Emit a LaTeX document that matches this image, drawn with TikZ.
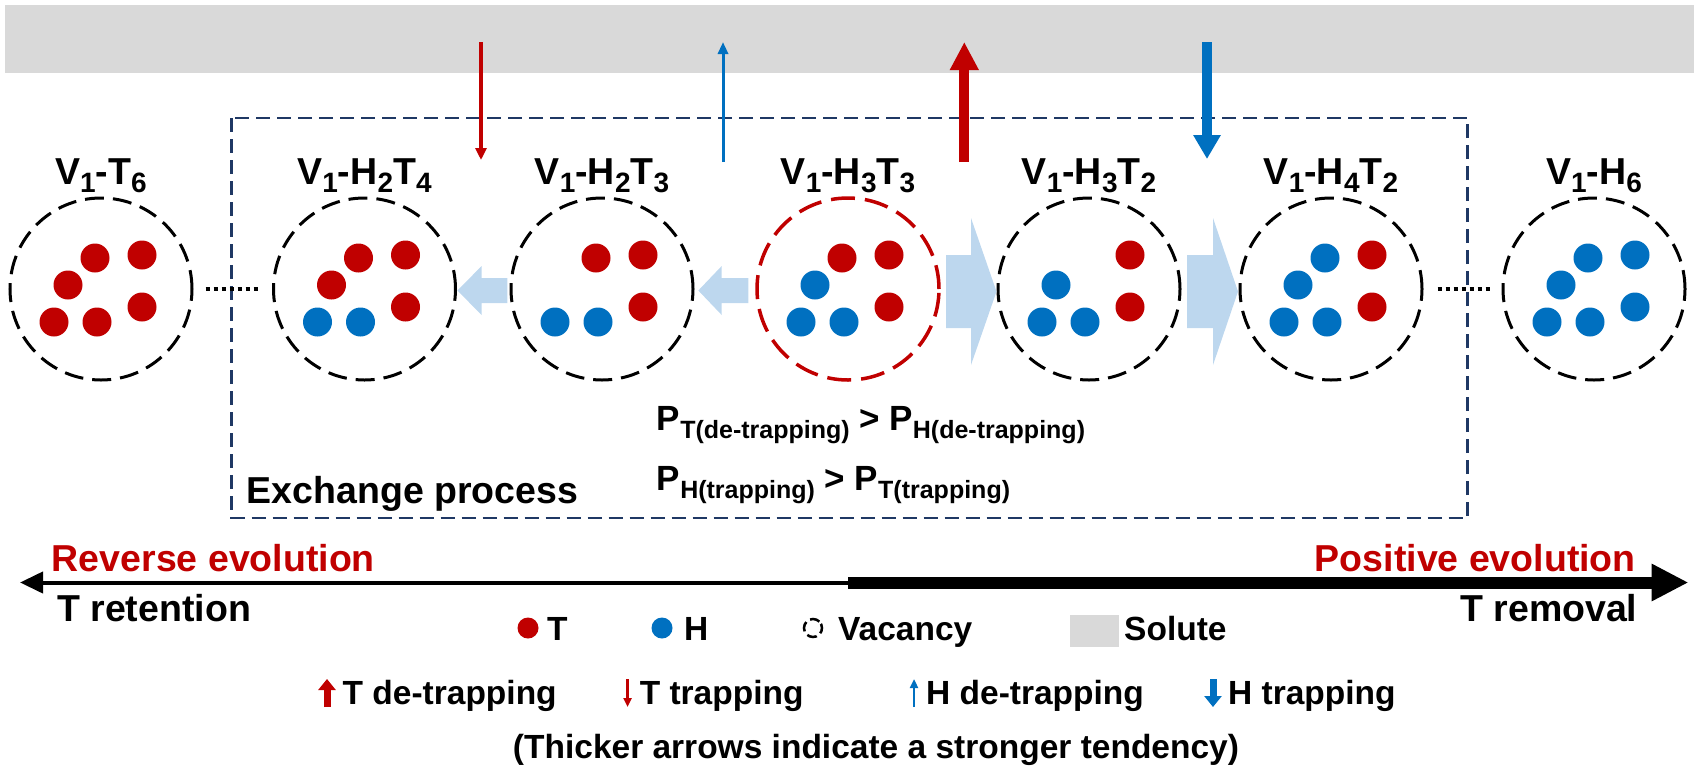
\documentclass[tikz,border=0pt]{standalone}
\usepackage{fontspec}
\setmainfont{Liberation Sans}
\usetikzlibrary{arrows.meta,calc}
\definecolor{tred}{HTML}{C00000}
\definecolor{hblue}{HTML}{0070C0}
\definecolor{lblue}{HTML}{BDD7EE}
\definecolor{solgray}{HTML}{D9D9D9}
\definecolor{navy}{HTML}{1F3864}
\newcommand{\lsub}[1]{\raisebox{-8pt}{\fontsize{28}{28}\selectfont #1}}
\newcommand{\psub}[1]{\raisebox{-8pt}{\fontsize{25}{25}\selectfont #1}}
\begin{document}
\begin{tikzpicture}[x=1pt,y=-1pt,
  vac/.style={circle,draw=black,line width=3pt,dash pattern=on 19pt off 9pt,minimum size=182pt,inner sep=0pt},
  vacred/.style={vac,draw=tred,line width=3.5pt,dash pattern=on 24pt off 10pt},
  tdot/.style={circle,fill=tred,minimum size=29pt,inner sep=0pt},
  hdot/.style={circle,fill=hblue,minimum size=29pt,inner sep=0pt},
  lbl/.style={font=\bfseries\fontsize{37.5}{40}\selectfont,anchor=base,inner sep=0pt},
  txt/.style={font=\bfseries\fontsize{37.5}{40}\selectfont,inner sep=0pt},
  ptxt/.style={font=\bfseries\fontsize{35}{38}\selectfont,inner sep=0pt,anchor=base west},
  leg/.style={font=\bfseries\fontsize{33.5}{36}\selectfont,inner sep=0pt,anchor=base west},
  blockarrow/.style={fill=lblue},
  dotline/.style={line width=4pt,dash pattern=on 4pt off 4pt},
  thinred/.style={tred,line width=3.5pt,-{Triangle[length=12pt,width=11pt]}},
  thinblue/.style={hblue,line width=3pt,-{Triangle[length=12pt,width=10pt]}},
  thickred/.style={tred,line width=10pt,-{Triangle[length=28pt,width=27pt]}},
  thickblue/.style={hblue,line width=9.5pt,-{Triangle[length=24pt,width=26pt]}},
  legthin/.style={line width=2.5pt,-{Triangle[length=9pt,width=8pt]}},
  legthick/.style={line width=7pt,-{Triangle[length=11pt,width=17pt]}}
]
\useasboundingbox (0,0) rectangle (1700,772);
% solute bar
\node[fill=solgray,minimum width=1689pt,minimum height=68pt,inner sep=0pt,anchor=north west] (solute) at (5,5) {};
% exchange box
\draw[navy,line width=2.2pt,dash pattern=on 14pt off 7pt] (231.5,118) rectangle (1467.5,518);
% vacancies
\node[vac] (c1) at (101,289) {};
\node[vac] (c2) at (364.5,289) {};
\node[vac] (c3) at (602,289) {};
\node[vacred] (c4) at (848,289) {};
\node[vac] (c5) at (1089,289) {};
\node[vac] (c6) at (1331,289) {};
\node[vac] (c7) at (1594,289) {};
% labels
\node[lbl] (l1) at (101,184) {V\lsub{1}-T\lsub{6}};
\node[lbl] (l2) at (364.5,184) {V\lsub{1}-H\lsub{2}T\lsub{4}};
\node[lbl] (l3) at (602,184) {V\lsub{1}-H\lsub{2}T\lsub{3}};
\node[lbl] (l4) at (848,184) {V\lsub{1}-H\lsub{3}T\lsub{3}};
\node[lbl] (l5) at (1089,184) {V\lsub{1}-H\lsub{3}T\lsub{2}};
\node[lbl] (l6) at (1331,184) {V\lsub{1}-H\lsub{4}T\lsub{2}};
\node[lbl] (l7) at (1594,184) {V\lsub{1}-H\lsub{6}};
% dots: A(-6,-31) B(41,-34) C(-33,-4) D(41,18) E(-47,33) F(-4,33)
\node[tdot] (c1a) at ($(c1)+(-6,-31)$) {};
\node[tdot] (c1b) at ($(c1)+(41,-34)$) {};
\node[tdot] (c1c) at ($(c1)+(-33,-4)$) {};
\node[tdot] (c1d) at ($(c1)+(41,18)$) {};
\node[tdot] (c1e) at ($(c1)+(-47,33)$) {};
\node[tdot] (c1f) at ($(c1)+(-4,33)$) {};
\node[tdot] (c2a) at ($(c2)+(-6,-31)$) {};
\node[tdot] (c2b) at ($(c2)+(41,-34)$) {};
\node[tdot] (c2c) at ($(c2)+(-33,-4)$) {};
\node[tdot] (c2d) at ($(c2)+(41,18)$) {};
\node[hdot] (c2e) at ($(c2)+(-47,33)$) {};
\node[hdot] (c2f) at ($(c2)+(-4,33)$) {};
\node[tdot] (c3a) at ($(c3)+(-6,-31)$) {};
\node[tdot] (c3b) at ($(c3)+(41,-34)$) {};
\node[tdot] (c3d) at ($(c3)+(41,18)$) {};
\node[hdot] (c3e) at ($(c3)+(-47,33)$) {};
\node[hdot] (c3f) at ($(c3)+(-4,33)$) {};
\node[tdot] (c4a) at ($(c4)+(-6,-31)$) {};
\node[tdot] (c4b) at ($(c4)+(41,-34)$) {};
\node[hdot] (c4c) at ($(c4)+(-33,-4)$) {};
\node[tdot] (c4d) at ($(c4)+(41,18)$) {};
\node[hdot] (c4e) at ($(c4)+(-47,33)$) {};
\node[hdot] (c4f) at ($(c4)+(-4,33)$) {};
\node[tdot] (c5b) at ($(c5)+(41,-34)$) {};
\node[hdot] (c5c) at ($(c5)+(-33,-4)$) {};
\node[tdot] (c5d) at ($(c5)+(41,18)$) {};
\node[hdot] (c5e) at ($(c5)+(-47,33)$) {};
\node[hdot] (c5f) at ($(c5)+(-4,33)$) {};
\node[hdot] (c6a) at ($(c6)+(-6,-31)$) {};
\node[tdot] (c6b) at ($(c6)+(41,-34)$) {};
\node[hdot] (c6c) at ($(c6)+(-33,-4)$) {};
\node[tdot] (c6d) at ($(c6)+(41,18)$) {};
\node[hdot] (c6e) at ($(c6)+(-47,33)$) {};
\node[hdot] (c6f) at ($(c6)+(-4,33)$) {};
\node[hdot] (c7a) at ($(c7)+(-6,-31)$) {};
\node[hdot] (c7b) at ($(c7)+(41,-34)$) {};
\node[hdot] (c7c) at ($(c7)+(-33,-4)$) {};
\node[hdot] (c7d) at ($(c7)+(41,18)$) {};
\node[hdot] (c7e) at ($(c7)+(-47,33)$) {};
\node[hdot] (c7f) at ($(c7)+(-4,33)$) {};
% dotted links
\draw[dotline,shorten <=12pt,shorten >=13pt] (c1.east) -- (c2.west);
\draw[dotline,shorten <=14pt,shorten >=10pt] (c6.east) -- (c7.west);
% block arrows
\fill[blockarrow] (507.3,278) -- (481.7,278) -- (481.7,266) -- (457.3,290.5) -- (481.7,315) -- (481.7,303) -- (507.3,303) -- cycle;
\fill[blockarrow] (748.3,278) -- (721.7,278) -- (721.7,266) -- (698.3,290.5) -- (721.7,315) -- (721.7,303) -- (748.3,303) -- cycle;
\fill[blockarrow] (946,255) -- (971,255) -- (971,218) -- (996.5,291.5) -- (971,365) -- (971,328) -- (946,328) -- cycle;
\fill[blockarrow] (1187,255) -- (1213,255) -- (1213,218) -- (1238,291.5) -- (1213,365) -- (1213,328) -- (1187,328) -- cycle;
% exchange arrows with the solute
\coordinate (tt1) at (481,42);  \coordinate (tt2) at (481,160);
\coordinate (hd1) at (723,162); \coordinate (hd2) at (723,42);
\coordinate (td1) at (964.3,162); \coordinate (td2) at (964.3,42);
\coordinate (ht1) at (1207,42); \coordinate (ht2) at (1207,159);
\draw[thinred] (tt1) -- (tt2);
\draw[thinblue] (hd1) -- (hd2);
\draw[thickred] (td1) -- (td2);
\draw[thickblue] (ht1) -- (ht2);
% texts in box
\node[ptxt] (p1) at (656.7,430) {P\psub{T(de-trapping)} > P\psub{H(de-trapping)}};
\node[ptxt] (p2) at (656.7,490) {P\psub{H(trapping)} > P\psub{T(trapping)}};
\node[txt,anchor=base west] (ex) at (246.6,503) {Exchange process};
% evolution axis
\coordinate (axl) at (20,582.5);
\coordinate (axm) at (848,582.5);
\coordinate (axr) at (1688.5,582.5);
\draw[line width=4pt,-{Triangle[length=23pt,width=21pt]}] (axm) -- (axl);
\draw[line width=12pt,-{Triangle[length=37pt,width=35pt]}] (axm) -- (axr);
\node[txt,anchor=base west,text=tred] (rev) at (51.7,571.7) {Reverse evolution};
\node[txt,anchor=base west] (ret) at (57,621.7) {T retention};
\node[txt,anchor=base east,text=tred] (pos) at (1636,571.7) {Positive evolution};
\node[txt,anchor=base east] (rem) at (1637.6,621.7) {T removal};
% legend row 1
\node[circle,fill=tred,minimum size=21pt,inner sep=0pt] (lgt) at (528,628) {};
\node[leg] (lgtt) at (547,640) {T};
\node[circle,fill=hblue,minimum size=21pt,inner sep=0pt] (lgh) at (662,628) {};
\node[leg] (lght) at (684,640) {H};
\node[circle,draw=black,line width=2.5pt,dash pattern=on 10pt off 4.5pt,minimum size=18pt,inner sep=0pt,rotate=45] (lgv) at (813,628) {};
\node[leg] (lgvt) at (838,640) {Vacancy};
\node[fill=solgray,minimum width=49pt,minimum height=32pt,inner sep=0pt] (lgs) at (1094.5,631) {};
\node[leg] (lgst) at (1124,640) {Solute};
% legend row 2
\coordinate (a1s) at (327,707); \coordinate (a1e) at (327,679);
\coordinate (a2s) at (627.6,679); \coordinate (a2e) at (627.6,707);
\coordinate (a3s) at (914,707); \coordinate (a3e) at (914,679);
\coordinate (a4s) at (1213,679); \coordinate (a4e) at (1213,707);
\draw[legthick,tred] (a1s) -- (a1e);
\node[leg] (lg1) at (342.5,704) {T de-trapping};
\draw[legthin,tred] (a2s) -- (a2e);
\node[leg] (lg2) at (639.6,704) {T trapping};
\draw[legthin,hblue] (a3s) -- (a3e);
\node[leg] (lg3) at (926,704) {H de-trapping};
\draw[legthick,hblue] (a4s) -- (a4e);
\node[leg] (lg4) at (1228,704) {H trapping};
% note
\node[leg,anchor=base] (note) at (876,758) {(Thicker arrows indicate a stronger tendency)};
\end{tikzpicture}
\end{document}
